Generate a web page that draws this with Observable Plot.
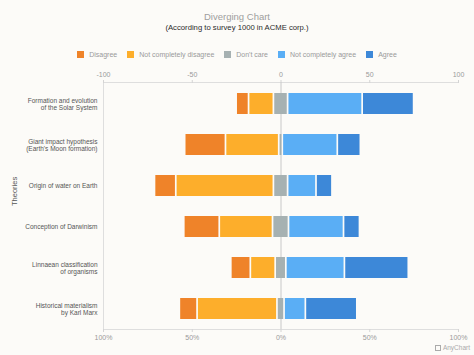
<!DOCTYPE html>
<html>
<head>
<meta charset="utf-8">
<script src="https://cdn.jsdelivr.net/npm/d3@7"></script>
<script src="https://cdn.jsdelivr.net/npm/@observablehq/plot@0.6"></script>
<style>
  html, body { margin: 0; padding: 0; background: #fcfbf8; }
  #wrap { position: relative; width: 474px; height: 355px; background: #fcfbf8; overflow: hidden;
          font-family: "Liberation Sans", Arial, sans-serif; }
  #title { position: absolute; left: 0; width: 474px; top: 12px; text-align: center;
           font-size: 9.5px; line-height: 10px; color: #9e9e9e; }
  #subtitle { position: absolute; left: 0; width: 474px; top: 24px; text-align: center;
           font-size: 7.7px; line-height: 8px; color: #2a2a2a; }
  #legend { position: absolute; left: 0; width: 474px; top: 50px; height: 8px; display: flex;
            justify-content: center; align-items: center; font-size: 7px; color: #9a9a9a; }
  .item { display: flex; align-items: center; margin: 0 5px; }
  .sw { width: 7px; height: 7px; margin-right: 5px; }
  #chart { position: absolute; left: 0; top: 0; }
  #credit { position: absolute; right: 4px; top: 344px; font-size: 6.5px; line-height: 7px; color: #aaa;
            display: flex; align-items: center; }
  #credit .ic { width: 4px; height: 4px; border: 0.7px solid #aaa; margin-right: 1.5px; }
</style>
</head>
<body>
<div id="wrap">
  <div id="chart"></div>
  <div id="title">Diverging Chart</div>
  <div id="subtitle">(According to survey 1000 in ACME corp.)</div>
  <div id="legend"></div>
  <div id="credit"><span class="ic"></span>AnyChart</div>
</div>
<script>
const theories = [
  "Formation and evolution\nof the Solar System",
  "Giant impact hypothesis\n(Earth's Moon formation)",
  "Origin of water on Earth",
  "Conception of Darwinism",
  "Linnaean classification\nof organisms",
  "Historical materialism\nby Karl Marx"
];
const categories = ["Disagree", "Not completely disagree", "Don't care", "Not completely agree", "Agree"];
const colors = ["#ef8329", "#fdae2b", "#a6b1b2", "#5aaef5", "#3d88d8"];

const disagree              = [7, 23, 12, 20, 11, 10];
const notCompletelyDisagree = [14, 30, 55, 30, 14, 45];
const dontCare              = [8, 2, 8, 9, 6, 4];
const notCompletelyAgree    = [42, 31, 16, 31, 33, 12];
const agree                 = [29, 13, 9, 9, 36, 29];

const xTicks = [-100, -50, 0, 50, 100];

const series = [disagree, notCompletelyDisagree, dontCare, notCompletelyAgree, agree];
const segments = [];
theories.forEach((t, i) => {
  let start = -(disagree[i] + notCompletelyDisagree[i] + dontCare[i] / 2);
  series.forEach((s, k) => {
    segments.push({theory: t, category: categories[k], x1: start, x2: start + s[i]});
    start += s[i];
  });
});

// legend
const legend = document.getElementById("legend");
categories.forEach((c, k) => {
  const it = document.createElement("div");
  it.className = "item";
  it.innerHTML = `<span class="sw" style="background:${colors[k]}"></span><span>${c}</span>`;
  legend.appendChild(it);
});

const chart = Plot.plot({
  width: 474,
  height: 355,
  marginTop: 82,
  marginBottom: 26,
  marginLeft: 103,
  marginRight: 16,
  style: {background: "transparent", fontFamily: "Liberation Sans, Arial, sans-serif", overflow: "visible"},
  x: {domain: [-100, 100]},
  y: {domain: theories, paddingInner: 0.49, paddingOuter: 0.25},
  color: {domain: categories, range: colors},
  marks: [
    Plot.frame({anchor: "top", stroke: "#dedede"}),
    Plot.frame({anchor: "bottom", stroke: "#dedede"}),
    Plot.frame({anchor: "left", stroke: "#dedede"}),
    Plot.ruleX([0], {stroke: "#c8c8c8"}),
    Plot.barX(segments, {x1: "x1", x2: "x2", y: "theory", fill: "category", insetLeft: 0.85, insetRight: 0.85}),
    Plot.axisX({anchor: "top", ticks: xTicks, tickSize: 3, tickPadding: 3, fontSize: 7, stroke: "#d4d4d4", fill: "#9a9a9a", label: null,
                tickFormat: d => String(d)}),
    Plot.axisX({anchor: "bottom", ticks: xTicks, tickSize: 3, tickPadding: 3, fontSize: 7, stroke: "#d4d4d4", fill: "#9a9a9a", label: null,
                tickFormat: d => Math.abs(d) + "%"}),
    Plot.axisY({tickSize: 0, tickPadding: 6, fontSize: 6.5, fill: "#555", label: null, lineHeight: 1.05}),
    Plot.text(["Theories"], {frameAnchor: "left", dx: -89, rotate: -90, fontSize: 7.5, fill: "#555"})
  ]
});
document.getElementById("chart").appendChild(chart);
</script>
</body>
</html>
